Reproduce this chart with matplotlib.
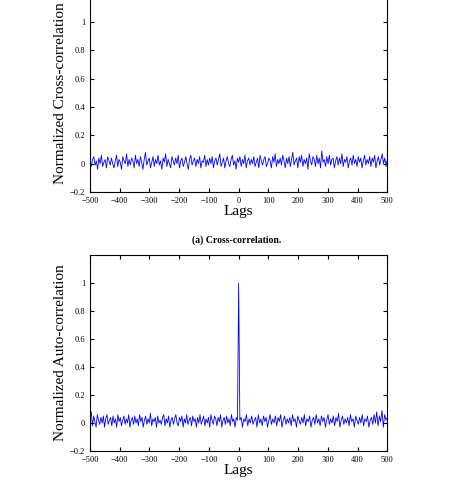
import numpy as np
import matplotlib
matplotlib.use("Agg")
import matplotlib.pyplot as plt

plt.rcParams['font.family'] = ['Liberation Serif', 'DejaVu Serif']

cross = [0.01,-0.02,0.03,0.05,-0.01,0.02,-0.04,0.04,0.00,0.06,-0.02,0.01,0.03,-0.03,0.05,0.02,
 -0.01,0.04,0.00,-0.03,0.02,0.06,-0.02,0.03,0.01,-0.04,0.05,0.02,0.00,0.07,-0.02,0.03,
 -0.01,0.04,0.02,-0.03,0.06,0.00,0.03,-0.02,0.05,0.01,-0.04,0.03,0.08,-0.01,0.02,0.04,
 -0.03,0.01,0.05,-0.02,0.03,0.00,0.06,-0.01,0.02,-0.04,0.04,0.01,0.07,-0.02,0.03,0.00,
 -0.03,0.05,0.02,-0.01,0.04,0.00,0.06,-0.03,0.02,0.04,-0.02,0.01,0.05,0.00,-0.04,0.03,
 0.06,-0.01,0.02,0.04,-0.02,0.03,0.00,0.05,-0.03,0.02,0.01,0.06,-0.02,0.03,-0.01,0.04,
 0.00,0.05,-0.03,0.02,0.04,-0.01,0.03,0.07,-0.02,0.01,0.04,-0.03,0.02,0.05,0.00,-0.02,
 0.03,0.06,-0.01,0.02,-0.04,0.04,0.01,0.05,-0.02,0.03,0.00,0.06,-0.03,0.02,0.04,-0.01,
 0.03,0.00,0.05,-0.02,0.01,0.04,-0.03,0.06,0.02,-0.01,0.03,0.05,-0.02,0.00,0.04,0.02,
 -0.03,0.05,0.01,0.07,-0.02,0.03,0.00,0.04,-0.01,0.06,0.02,-0.03,0.04,0.00,0.05,-0.02,
 0.03,0.08,-0.01,0.02,0.04,-0.03,0.05,0.01,0.06,-0.02,0.03,0.00,0.04,-0.04,0.07,0.02,
 -0.01,0.05,0.03,-0.02,0.06,0.00,0.04,-0.03,0.09,0.01,0.03,-0.02,0.05,0.00,0.06,-0.01,
 0.03,0.04,-0.03,0.02,0.05,-0.01,0.04,0.00,0.07,-0.02,0.03,0.01,0.05,-0.03,0.02,0.04,
 -0.01,0.06,0.00,0.03,-0.02,0.05,0.01,0.04,-0.03,0.02,0.06,-0.01,0.03,0.00,0.05,-0.02,
 0.04,0.01,0.06,-0.03,0.02,0.05,-0.01,0.03,0.07,0.00,0.04,-0.02,0.03]
auto_neg = [0.02,0.08,-0.02,0.05,0.01,-0.03,0.06,0.02,-0.01,0.04,0.00,0.05,-0.03,0.03,0.06,-0.01,
 0.02,0.04,-0.02,0.05,0.00,0.03,-0.03,0.06,0.01,0.04,-0.02,0.02,0.05,-0.01,0.03,0.00,
 0.06,-0.03,0.02,0.04,-0.01,0.05,0.00,0.03,-0.02,0.06,0.01,0.04,-0.03,0.02,0.05,-0.01,
 0.03,0.00,0.07,-0.02,0.03,0.01,0.04,-0.03,0.05,0.00,0.02,-0.01,0.04,0.06,-0.02,0.03,
 0.00,0.05,-0.03,0.02,0.04,-0.01,0.03,0.06,0.00,-0.02,0.04,0.01,0.05,-0.03,0.03,0.00,
 0.06,-0.01,0.02,0.04,-0.02,0.05,0.01,0.03,-0.03,0.04,0.00,0.06,-0.01,0.02,0.05,-0.02,
 0.03,0.00,0.04,-0.03,0.06,0.02,-0.01,0.05,0.03,-0.02,0.04,0.01,0.06,-0.03,0.02,0.04,
 -0.01,0.05,0.00,0.03,-0.02,0.06,0.01,0.03,-0.03,0.04,0.02]
auto_peak = 1.00
auto_pos = [0.02,0.04,-0.03,0.03,
 0.01,0.06,-0.02,0.03,0.00,0.05,-0.01,0.02,0.04,-0.03,0.06,0.00,0.03,-0.02,0.05,0.01,
 0.04,-0.03,0.02,0.06,-0.01,0.03,0.00,0.05,-0.02,0.04,0.01,0.06,-0.03,0.02,0.05,-0.01,
 0.03,0.00,0.04,-0.02,0.06,0.01,0.03,-0.03,0.05,0.02,-0.01,0.04,0.00,0.06,-0.02,0.03,
 0.01,0.05,-0.03,0.02,0.04,-0.01,0.06,0.00,0.03,-0.02,0.05,0.01,0.04,-0.03,0.02,0.06,
 -0.01,0.03,0.00,0.05,-0.02,0.04,0.01,0.07,-0.03,0.02,0.05,-0.01,0.03,0.00,0.04,-0.02,
 0.06,0.01,0.03,-0.03,0.05,0.02,-0.01,0.04,0.00,0.06,-0.02,0.03,0.01,0.05,-0.03,0.02,
 0.04,-0.01,0.06,0.00,0.08,-0.02,0.05,0.01,0.09,-0.03,0.06,0.02,0.04]
xticks = [-500,-400,-300,-200,-100,0,100,200,300,400,500]
yticks = [-0.2,0,0.2,0.4,0.6,0.8,1]
ylabels = ['−0.2','0','0.2','0.4','0.6','0.8','1']

cross_lags = np.linspace(-500, 500, len(cross))
auto_lags = np.concatenate([np.linspace(-500, -4, len(auto_neg)), [0], np.linspace(4, 500, len(auto_pos))])
auto = auto_neg + [auto_peak] + auto_pos

fig = plt.figure(figsize=(4.74, 4.82), dpi=100)
ax1 = fig.add_axes([0.19, 0.6017, 0.627, 0.411])
ax2 = fig.add_axes([0.19, 0.0643, 0.627, 0.4066])
for ax, x, y, lab in [(ax1, cross_lags, cross, 'Normalized Cross-correlation'),
                      (ax2, auto_lags, auto, 'Normalized Auto-correlation')]:
    ax.plot(x, y, color='#0000ff', lw=0.6)
    ax.set_xlim(-500, 500)
    ax.set_ylim(-0.2, 1.2)
    ax.set_xticks(xticks)
    ax.set_xticklabels([str(t).replace('-', '−') for t in xticks])
    ax.set_yticks(yticks)
    ax.set_yticklabels(ylabels)
    ax.tick_params(direction='in', labelsize=6, length=3, top=True, right=True)
    ax.set_xlabel('Lags', fontsize=11, labelpad=0)
    ax.set_ylabel(lab, fontsize=11, labelpad=2)
fig.text(0.5, 1 - 240/482, '(a) Cross-correlation.', ha='center', va='center', fontsize=7, fontweight='bold')
fig.savefig('out.png', dpi=100)
